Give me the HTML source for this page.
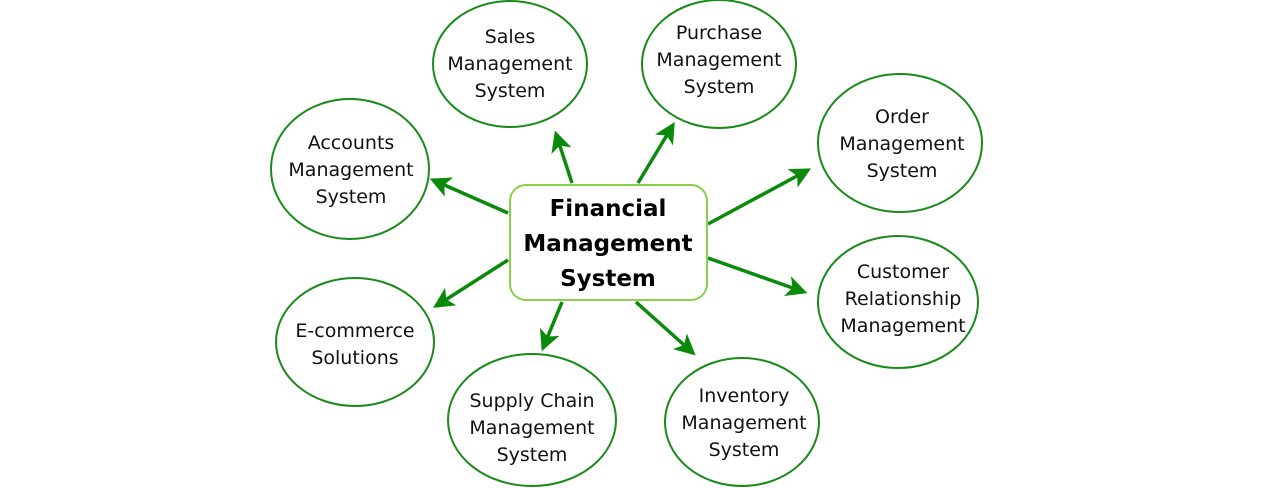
<!DOCTYPE html>
<html><head><meta charset="utf-8"><style>
html,body{margin:0;padding:0;background:#fff;}
svg{display:block;}
text{font-family:"DejaVu Sans","Liberation Sans",sans-serif;font-size:19px;fill:#111;text-anchor:middle;}
.b{font-weight:bold;font-size:23px;fill:#000;}
</style></head><body>
<svg width="1278" height="488" viewBox="0 0 1278 488" xmlns="http://www.w3.org/2000/svg">
<defs><marker id="a" markerWidth="6" markerHeight="6" refX="5" refY="3" orient="auto" markerUnits="strokeWidth"><path d="M0,0 L6,3 L0,6 L1.5,3 z" fill="#0a8a0a"/></marker></defs>
<g fill="none" stroke="#1a8a1a" stroke-width="2">
<ellipse cx="510" cy="64" rx="77" ry="63"/>
<ellipse cx="719" cy="64" rx="77" ry="64"/>
<ellipse cx="900" cy="143" rx="82" ry="69"/>
<ellipse cx="898" cy="302" rx="80" ry="66"/>
<ellipse cx="742" cy="422" rx="77" ry="64"/>
<ellipse cx="532" cy="420" rx="84" ry="66"/>
<ellipse cx="355" cy="342" rx="79" ry="64"/>
<ellipse cx="350" cy="169" rx="79" ry="70"/>
</g>
<g stroke="#0a8a0a" stroke-width="3.5" marker-end="url(#a)">
<line x1="572" y1="183" x2="556" y2="134"/>
<line x1="638" y1="183" x2="673" y2="125"/>
<line x1="708" y1="224" x2="808" y2="170"/>
<line x1="708" y1="258" x2="804" y2="292"/>
<line x1="636" y1="302" x2="693" y2="353"/>
<line x1="562" y1="302" x2="543" y2="348"/>
<line x1="508" y1="260" x2="436" y2="306"/>
<line x1="508" y1="213" x2="433" y2="180"/>
</g>
<rect x="510" y="185" width="197" height="115" rx="16" fill="#fff" stroke="#86d04a" stroke-width="2"/>
<text class="b" x="608" y="216">Financial</text>
<text class="b" x="608" y="251">Management</text>
<text class="b" x="608" y="286">System</text>
<text x="510" y="43">Sales</text><text x="510" y="70">Management</text><text x="510" y="97">System</text>
<text x="719" y="39">Purchase</text><text x="719" y="66">Management</text><text x="719" y="93">System</text>
<text x="902" y="123">Order</text><text x="902" y="150">Management</text><text x="902" y="177">System</text>
<text x="903" y="278">Customer</text><text x="903" y="305">Relationship</text><text x="903" y="332">Management</text>
<text x="744" y="402">Inventory</text><text x="744" y="429">Management</text><text x="744" y="456">System</text>
<text x="532" y="407">Supply Chain</text><text x="532" y="434">Management</text><text x="532" y="461">System</text>
<text x="355" y="337">E-commerce</text><text x="355" y="364">Solutions</text>
<text x="351" y="149">Accounts</text><text x="351" y="176">Management</text><text x="351" y="203">System</text>
</svg>
</body></html>
